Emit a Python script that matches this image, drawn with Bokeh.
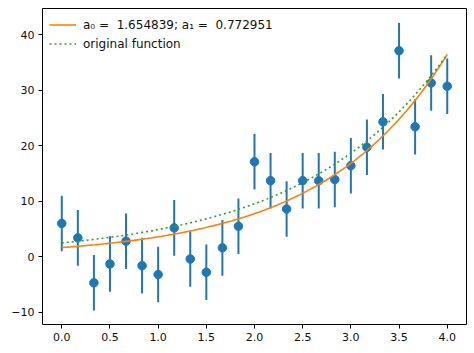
import numpy as np
from bokeh.plotting import figure
from bokeh.models import ColumnDataSource, Range1d, FixedTicker, Legend, LegendItem
from bokeh.embed import file_html
from bokeh.resources import INLINE

# ---- data ----
x_data = [0.0, 0.1667, 0.3333, 0.5, 0.6667, 0.8333, 1.0, 1.1667, 1.3333, 1.5,
          1.6667, 1.8333, 2.0, 2.1667, 2.3333, 2.5, 2.6667, 2.8333, 3.0, 3.1667,
          3.3333, 3.5, 3.6667, 3.8333, 4.0]
y_data = [6.0, 3.4, -4.7, -1.3, 2.8, -1.6, -3.2, 5.2, -0.4, -2.8,
          1.6, 5.5, 17.1, 13.7, 8.6, 13.7, 13.7, 13.9, 16.4, 19.7,
          24.3, 37.1, 23.4, 31.3, 30.7]
y_err = 5.0

fit_params = [1.654839, 0.772951]     # a0, a1 from legend
orig_params = [2.5, 0.67]             # estimated original function
x_ticks = [0.0, 0.5, 1.0, 1.5, 2.0, 2.5, 3.0, 3.5, 4.0]
y_ticks = [-10, 0, 10, 20, 30, 40]

BLUE = "#1f77b4"
ORANGE = "#ff7f0e"
GREEN = "#2ca02c"
FONT = "DejaVu Sans"

xd = np.array(x_data)
yd = np.array(y_data)
src = ColumnDataSource(dict(x=xd, y=yd, lo=yd - y_err, hi=yd + y_err))

xc = np.linspace(0, 4, 200)
fit_y = fit_params[0] * np.exp(fit_params[1] * xc)
orig_y = orig_params[0] * np.exp(orig_params[1] * xc)

p = figure(width=474, height=353, output_backend="svg", toolbar_location=None,
           x_range=Range1d(-0.2, 4.2), y_range=Range1d(-12.2, 44.7),
           min_border_left=42, min_border_right=8, min_border_top=8,
           min_border_bottom=29)

p.segment(x0="x", y0="lo", x1="x", y1="hi", source=src, line_color=BLUE, line_width=2)
p.scatter("x", "y", source=src, size=8.5, fill_color=BLUE, line_color=BLUE)

r_fit = p.line(xc, fit_y, line_color=ORANGE, line_width=1.6)
r_orig = p.line(xc, orig_y, line_color=GREEN, line_width=1.6, line_dash="2 3")

legend = Legend(items=[
    LegendItem(label="a\u2080 =  %.6f; a\u2081 =  %.6f" % (fit_params[0], fit_params[1]), renderers=[r_fit]),
    LegendItem(label="original function", renderers=[r_orig]),
], location="top_left")
legend.margin = 7
legend.padding = 7
legend.spacing = 0
legend.label_height = 19
legend.glyph_height = 19
legend.glyph_width = 27
legend.label_standoff = 7
legend.label_text_font = FONT
legend.label_text_font_size = "12px"
legend.label_text_color = "#111111"
legend.border_line_color = None
legend.background_fill_alpha = 0.8
p.add_layout(legend)

p.xgrid.visible = False
p.ygrid.visible = False
p.outline_line_color = "#000000"
p.outline_line_width = 1
p.background_fill_color = "white"
p.border_fill_color = "white"

p.xaxis.ticker = FixedTicker(ticks=x_ticks)
p.xaxis.major_label_overrides = {t: "%.1f" % t for t in x_ticks}
p.yaxis.ticker = FixedTicker(ticks=y_ticks)
p.yaxis.major_label_overrides = {t: str(t).replace("-", "\u2212") for t in y_ticks}

for ax in (p.xaxis, p.yaxis):
    ax.axis_line_color = None
    ax.major_tick_in = 0
    ax.major_tick_out = 4
    ax.minor_tick_line_color = None
    ax.major_tick_line_color = "#000000"
    ax.major_label_text_font = FONT
    ax.major_label_text_font_size = "11px"
    ax.major_label_text_color = "#111111"
    ax.major_label_standoff = 4

open("out.html", "w").write(file_html(p, INLINE))
